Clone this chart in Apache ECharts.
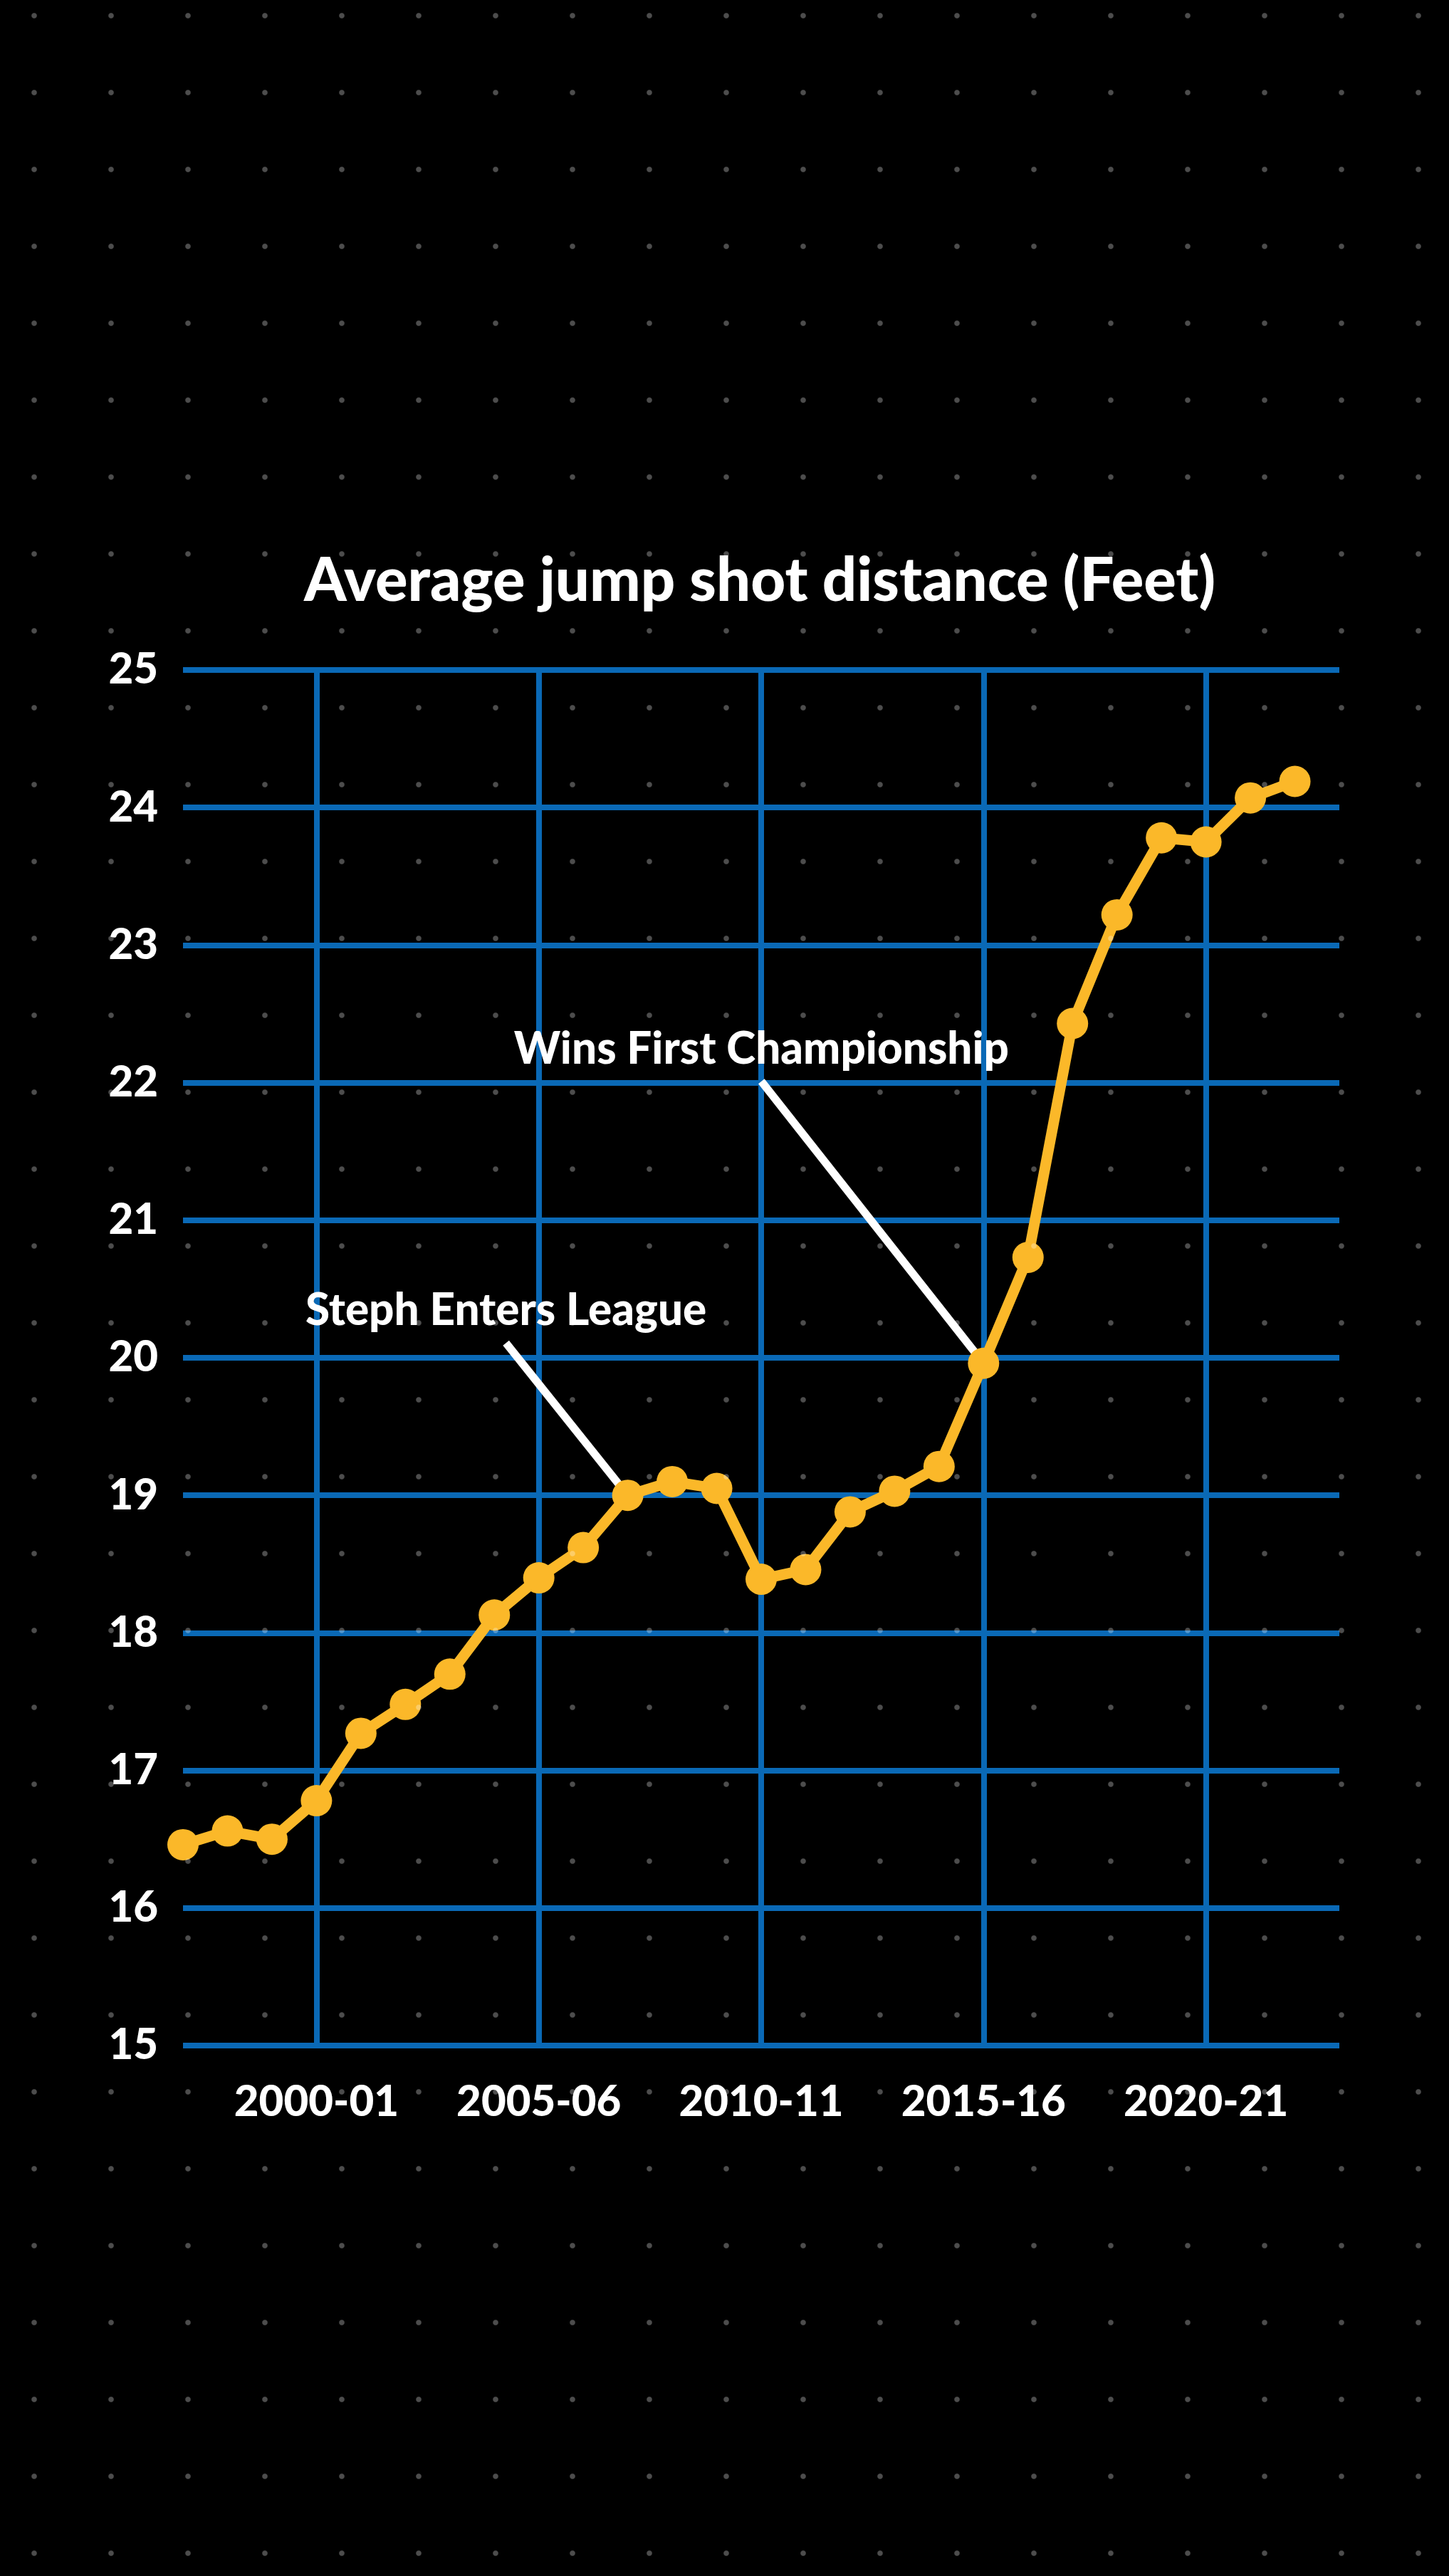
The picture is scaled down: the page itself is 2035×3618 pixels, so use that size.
<!DOCTYPE html>
<html>
<head>
<meta charset="utf-8">
<script src="https://cdn.jsdelivr.net/npm/echarts@6/dist/echarts.min.js"></script>
<style>
  html, body { margin: 0; padding: 0; background: #000; }
  #wrap { position: relative; width: 2035px; height: 3618px; background: #000; }
  #chart { position: absolute; left: 0; top: 0; width: 2035px; height: 3618px; }
  #dots {
    position: absolute; left: 0; top: 0; width: 2035px; height: 3618px; pointer-events: none;
    background-image: radial-gradient(circle at center, rgba(255,255,255,0.30) 0, rgba(255,255,255,0.30) 3.2px, rgba(255,255,255,0) 4.4px);
    background-size: 108px 108px;
    background-position: -6px -32px;
  }
</style>
</head>
<body>
<div id="wrap">
  <div id="chart"></div>
  <div id="dots"></div>
</div>
<script>
// ---- data ----
const seasons = ['1997-98','1998-99','1999-00','2000-01','2001-02','2002-03','2003-04','2004-05',
  '2005-06','2006-07','2007-08','2008-09','2009-10','2010-11','2011-12','2012-13','2013-14',
  '2014-15','2015-16','2016-17','2017-18','2018-19','2019-20','2020-21','2021-22','2022-23','2023-24'];
const avgJumpShotDistance = [16.46, 16.56, 16.50, 16.78, 17.27, 17.48, 17.70, 18.13, 18.40, 18.62,
  19.00, 19.10, 19.05, 18.39, 18.46, 18.88, 19.03, 19.21, 19.96, 20.73, 22.43, 23.22, 23.78, 23.75,
  24.07, 24.19];
const labelledSeasons = ['2000-01','2005-06','2010-11','2015-16','2020-21'];
const yTicks = [15, 16, 17, 18, 19, 20, 21, 22, 23, 24, 25];
const titleText = 'Average jump shot distance (Feet)';
const annotationTexts = ['Steph Enters League', 'Wins First Championship'];
const annotationSeasons = ['2007-08', '2015-16'];

// ---- chart ----
const FONT = 'Lato, "Noto Sans", sans-serif';
const GRID_BLUE = '#0a69b6';
const YELLOW = '#fbb829';
const chart = echarts.init(document.getElementById('chart'), null, { renderer: 'canvas' });

const showIdx = (i) => labelledSeasons.indexOf(seasons[i]) >= 0;

chart.setOption({
  backgroundColor: 'transparent',
  animation: false,
  grid: { left: 257, right: 154, top: 941, bottom: 745, containLabel: false },
  xAxis: {
    type: 'category',
    data: seasons,
    boundaryGap: false,
    axisLine: { show: false },
    axisTick: { show: false },
    axisLabel: {
      interval: (i) => showIdx(i),
      color: '#ffffff', fontFamily: FONT, fontWeight: 900, fontSize: 60, margin: 50
    },
    splitLine: {
      show: true,
      interval: (i) => showIdx(i),
      lineStyle: { color: GRID_BLUE, width: 8 }
    }
  },
  yAxis: {
    type: 'value',
    min: yTicks[0],
    max: yTicks[yTicks.length - 1],
    interval: 1,
    axisLine: { show: false },
    axisTick: { show: false },
    axisLabel: {
      color: '#ffffff', fontFamily: FONT, fontWeight: 900, fontSize: 60, margin: 35
    },
    splitLine: { show: true, lineStyle: { color: GRID_BLUE, width: 8 } }
  },
  series: [{
    type: 'line',
    data: avgJumpShotDistance,
    symbol: 'circle',
    symbolSize: 44,
    showSymbol: true,
    showAllSymbol: true,
    z: 5,
    lineStyle: { color: YELLOW, width: 15 },
    itemStyle: { color: YELLOW },
    emphasis: { disabled: true }
  }]
});

// annotations & title drawn as graphic, anchored to data points
const offsets = [[-171, -214], [-312, -396]];
const graphics = [];
annotationTexts.forEach((txt, k) => {
  const idx = seasons.indexOf(annotationSeasons[k]);
  const p = chart.convertToPixel({ seriesIndex: 0 }, [idx, avgJumpShotDistance[idx]]);
  const top = [p[0] + offsets[k][0], p[1] + offsets[k][1]];
  graphics.push({
    type: 'line', z: 3,
    shape: { x1: top[0], y1: top[1], x2: p[0], y2: p[1] },
    style: { stroke: '#ffffff', lineWidth: 11 }
  });
  graphics.push({
    type: 'text', z: 10,
    x: top[0], y: top[1] - 45,
    style: {
      text: txt, fill: '#ffffff', font: '900 62px ' + FONT,
      align: 'center', verticalAlign: 'middle'
    }
  });
});
graphics.push({
  type: 'text', z: 10,
  x: 1067, y: 817,
  style: {
    text: titleText, fill: '#ffffff', font: '900 85px ' + FONT,
    align: 'center', verticalAlign: 'middle'
  }
});
chart.setOption({ graphic: graphics });
</script>
</body>
</html>
